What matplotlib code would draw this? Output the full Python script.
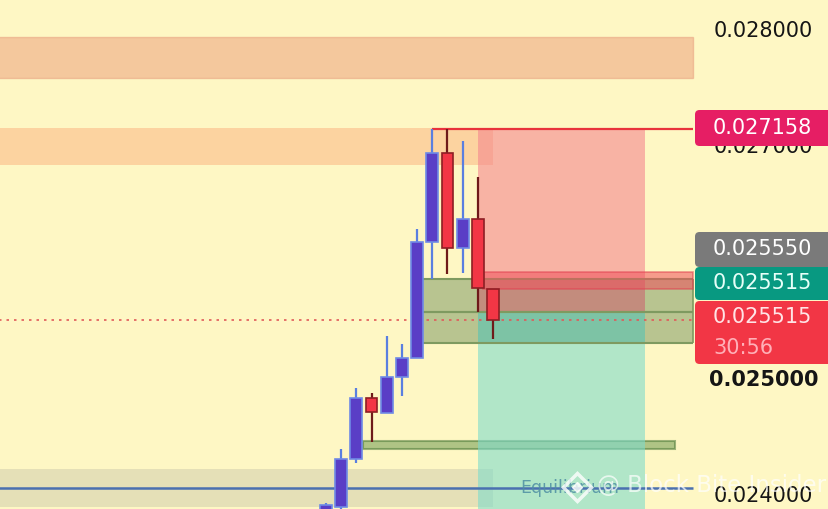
import matplotlib.pyplot as plt
from matplotlib.patches import Rectangle, FancyBboxPatch

# candles (index 0 = leftmost visible candle)
opens = [0.02370, 0.02391, 0.024320, 0.024844, 0.024715, 0.025025, 0.025188,
         0.026182, 0.026951, 0.026134, 0.026383, 0.025782]
highs = [0.023941, 0.024406, 0.024930, 0.024887, 0.025377, 0.025309, 0.026297,
         0.027158, 0.027158, 0.027054, 0.026745, 0.025782]
lows = [0.02360, 0.02388, 0.024285, 0.024466, 0.024715, 0.024862, 0.025188,
        0.025868, 0.025911, 0.025919, 0.025584, 0.025352]
closes = [0.023924, 0.024320, 0.024844, 0.024724, 0.025025, 0.025188, 0.026182,
          0.026951, 0.026134, 0.026383, 0.025790, 0.025515]

# 0.026000 sits behind the price tags, so it is not shown
tick_prices = [0.028, 0.027, 0.025, 0.024]
high_price = 0.027158
bid_price = 0.025550
last_price = 0.025515
entry_price = 0.025584
equilibrium = 0.024073
countdown = '30:56'

# zones: (bottom, top, x_start, x_end)
zone_top = (0.027593, 0.027951, -22, 24.18)
zone_peach = (0.026848, 0.027166, -22, 11.0)
zone_grey = (0.023907, 0.024234, -22, 11.0)
zone_olive = [(0.025584, 0.025868, 6.39, 24.18), (0.025313, 0.025584, 6.39, 24.18)]
zone_red = (0.025782, 0.025928, 10.34, 24.18)
zone_thin = (0.024406, 0.024475, 2.44, 22.99)
pos_x0, pos_x1 = 10.0, 21.0

BG = '#FEF7C4'
PX_X = 15.18      # pixels per candle
PX_Y = 116300     # pixels per price unit


def py(pix):
    # pixel row -> price, used only for the stacked price tags
    return 0.028 - (pix - 31) / PX_Y


fig = plt.figure(figsize=(8.29, 5.09), dpi=100, facecolor=BG)
ax = fig.add_axes([0, 0, 1, 1])
ax.set_facecolor(BG)
ax.set_xlim(-326 / PX_X, (829 - 326) / PX_X)
ax.set_ylim(py(509), py(0))
ax.axis('off')


def zone(z, fc, alpha, ec=None, lw=0, zo=1):
    b, t, x0, x1 = z
    ax.add_patch(Rectangle((x0, b), x1 - x0, t - b, facecolor=fc, alpha=alpha,
                           edgecolor=ec if ec else 'none', linewidth=lw, zorder=zo))


zone(zone_top, '#EDA27E', 0.55, '#E8A080', 1)
zone(zone_peach, '#FBB07E', 0.5)
zone(zone_grey, '#C8C4A8', 0.45)
zone(zone_thin, '#6E9A52', 0.55, '#4E7A3A', 1.5)

# position tool
ax.add_patch(Rectangle((pos_x0, entry_price), pos_x1 - pos_x0, high_price - entry_price,
                       facecolor='#F4878F', alpha=0.6, linewidth=0, zorder=2))
ax.add_patch(Rectangle((pos_x0, py(520)), pos_x1 - pos_x0, entry_price - py(520),
                       facecolor='#7EDBCC', alpha=0.6, linewidth=0, zorder=2))

# olive zone, split where the position boxes cover it
for k, (b, t, x0, x1) in enumerate(zone_olive):
    inside = '#C38C7D' if k == 0 else '#7DC3A5'
    for a0, a1, col in [(x0, pos_x0, '#B8C490'), (pos_x0, pos_x1, inside), (pos_x1, x1, '#B8C490')]:
        ax.add_patch(Rectangle((a0, b), a1 - a0, t - b, facecolor=col, linewidth=0, zorder=3))
    ax.hlines([b, t], x0, x1, color='#7E9A60', lw=1.5, zorder=3.2)
    ax.vlines(x1, b, t, color='#7E9A60', lw=1.2, zorder=3.2)

zone(zone_red, '#F0505C', 0.55, '#E04050', 1.2, zo=3.5)

# lines
ax.hlines(high_price, 6.98, 24.18, color='#E8323C', lw=1.6, zorder=4)
ax.hlines(equilibrium, -22, 24.18, color='#4A70B0', lw=1.8, zorder=4)
ax.hlines(last_price, -22, 24.18, color='#E05A5A', lw=1.2, ls=(0, (1.5, 3)), zorder=4)

# candles
w = 0.78
for i in range(len(opens)):
    o, h, l, c = opens[i], highs[i], lows[i], closes[i]
    up = c >= o
    body = '#5A3EC6' if up else '#F23645'
    edge = '#6F8AE6' if up else '#8E1E24'
    wick = '#5A7FE0' if up else '#6E1A1A'
    ax.vlines(i, l, h, color=wick, lw=1.6, zorder=5)
    ax.add_patch(Rectangle((i - w / 2, min(o, c)), w, abs(c - o), facecolor=body,
                           edgecolor=edge, linewidth=1.2, zorder=6))

ax.text(12.78, equilibrium, 'Equilibrium', fontsize=12.5, color='#4F8FA3',
        alpha=0.85, va='center', ha='left', zorder=7)

# price axis
tx = (763.5 - 326) / PX_X
for p in tick_prices:
    ax.text(tx, p, '%.6f' % p, fontsize=15, color='#151515', ha='center', va='center',
            fontweight='bold' if p == 0.025 else 'normal', zorder=8)

asp = PX_X / PX_Y
tags = [
    (py(110), py(146), '#E61E64', ['%.6f' % high_price], ['white']),
    (py(232), py(267), '#7A7A7A', ['%.6f' % bid_price], ['white']),
    (py(267), py(300), '#089981', ['%.6f' % last_price], ['#E6FFF8']),
    (py(301), py(364), '#F23645', ['%.6f' % last_price, countdown], ['#FFE4E6', '#FFB0B8']),
]
x0 = (695 - 326) / PX_X
for t, b, col, texts, tcols in tags:
    ax.add_patch(FancyBboxPatch((x0, b), 12, t - b, boxstyle='round,pad=0,rounding_size=0.3',
                                mutation_aspect=asp, facecolor=col, edgecolor='none', zorder=9))
    n = len(texts)
    for k in range(n):
        yy = t - (t - b) * (k + 0.5) / n
        ax.text((713 - 326) / PX_X, yy, texts[k], fontsize=15, color=tcols[k],
                ha='left', va='center', zorder=10)

# watermark
ax.plot([(577 - 326) / PX_X], [py(487)], marker='D', ms=14, mfc='none', mec='white',
        mew=2.5, alpha=0.8, zorder=11)
ax.plot([(577 - 326) / PX_X], [py(487)], marker='D', ms=5, mfc='white', mec='white',
        alpha=0.8, zorder=11)
ax.text((597 - 326) / PX_X, py(486), '@ Block Bite Insider', fontsize=16.5, color='white',
        alpha=0.7, ha='left', va='center', zorder=11)

plt.savefig('out.png', dpi=100, facecolor=BG)
